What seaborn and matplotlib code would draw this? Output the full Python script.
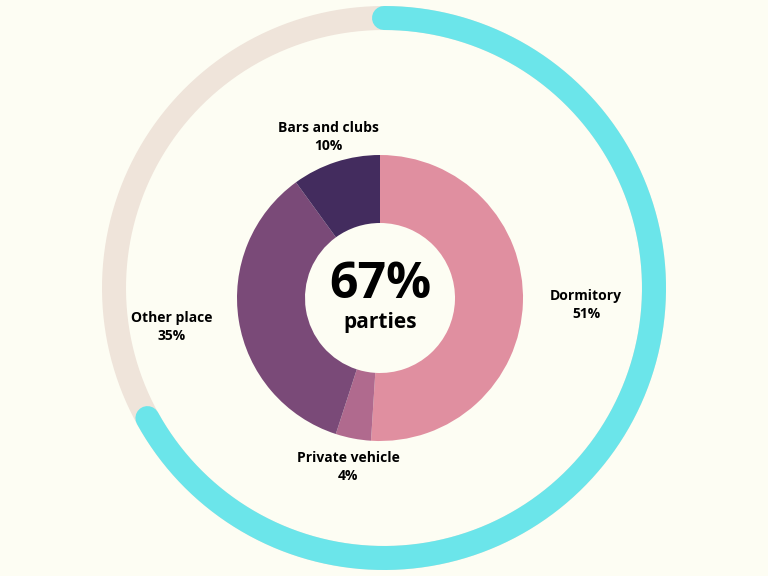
import numpy as np
import matplotlib
matplotlib.use("Agg")
import matplotlib.pyplot as plt
import seaborn as sns

sns.set_theme(style="white")
plt.rcParams['font.family'] = ['Open Sans', 'DejaVu Sans']

categories = ["Dormitory", "Private vehicle", "Other place", "Bars and clubs"]
values = [51, 4, 35, 10]
colors = ["#E08FA0", "#B06A8E", "#7A4A78", "#432C5E"]
ring_value = 67
ring_label = "parties"

bg = "#FDFDF3"
fig = plt.figure(figsize=(7.68, 5.76), dpi=100, facecolor=bg)
ax = fig.add_axes([0, 0, 1, 1])
ax.set_facecolor(bg)

# outer ring
R = 270
lw = 24 * 72 / 100
t = np.linspace(0, 2 * np.pi, 400)
ax.plot(R * np.cos(t), R * np.sin(t), color="#EFE4DA", lw=lw)
ang = np.deg2rad(90 - 360 * ring_value / 100 * np.linspace(0, 1, 400))
ax.plot(R * np.cos(ang), R * np.sin(ang), color="#6BE5EA", lw=lw, solid_capstyle="round")

# inner donut
cx, cy = -4, -10
ax.pie(values, colors=colors, radius=143, startangle=90, counterclock=False,
       wedgeprops=dict(width=68, linewidth=0), center=(cx, cy), frame=True)
ax.set_xlim(-384, 384)
ax.set_ylim(-288, 288)
ax.set_aspect("equal")
ax.axis("off")

ax.text(cx, cy - 12, f"{ring_value}%", ha="center", va="bottom", fontsize=36, fontweight="bold", color="black")
ax.text(cx, cy - 14, ring_label, ha="center", va="top", fontsize=15, fontweight="bold", color="black")

label_pos = [(202, -17), (-36, -179), (-212, -39), (-56, 151)]
for (x, y), c, v in zip(label_pos, categories, values):
    ax.text(x, y, f"{c}\n{v}%", ha="center", va="center", fontsize=10, fontweight="bold",
            color="black", linespacing=1.4)

fig.savefig("out.png", dpi=100, facecolor=bg)
